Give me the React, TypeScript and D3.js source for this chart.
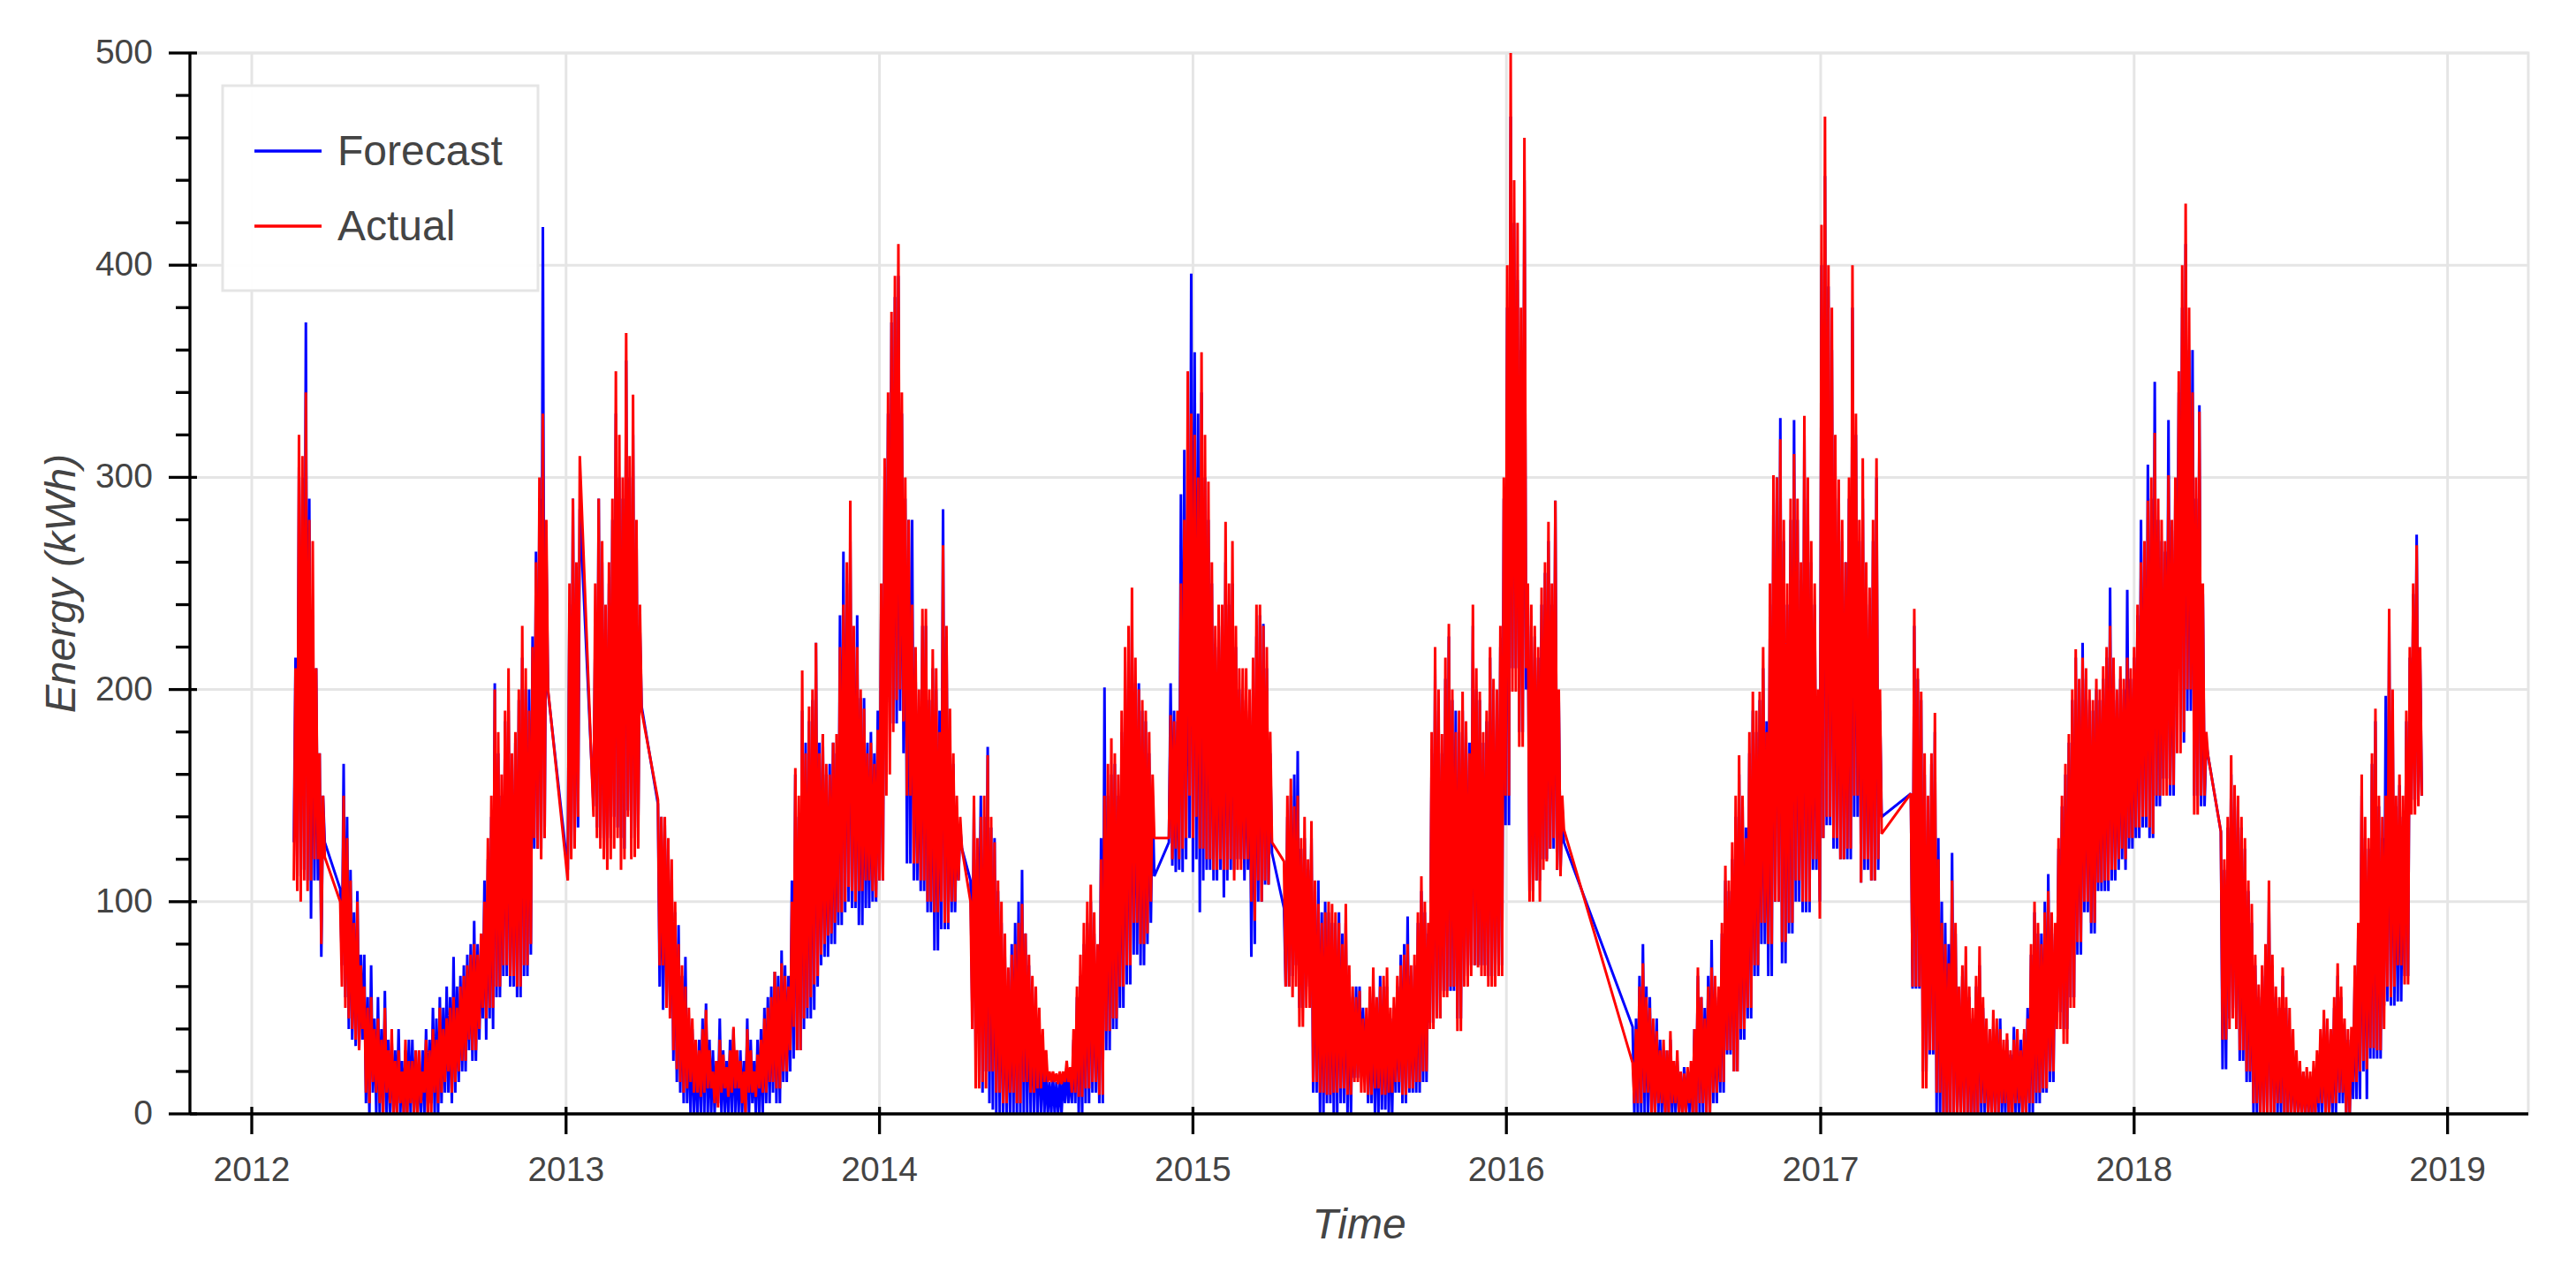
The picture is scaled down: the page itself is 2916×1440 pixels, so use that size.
import { useEffect, useRef } from 'react';
import * as d3 from 'd3';

// ---------------------------------------------------------------------------
// Data
// ---------------------------------------------------------------------------

// Readings come in runs, one value every STEP_DAYS days from the run start.
// Bokeh joins the runs with straight segments, so we do the same.
const STEP_DAYS = 2;

const RUN_STARTS = [
  '2012-02-19', '2012-04-13', '2013-01-03', '2013-02-02', '2013-04-18',
  '2014-04-17', '2014-12-04', '2015-04-17', '2016-05-27', '2017-04-16',
  '2018-04-12',
];

const actual1 = [110, 210, 105, 320, 100, 310, 110, 340, 105, 280, 110, 270, 120, 210, 120, 170, 80, 150, 121];
const forecast1 = [128, 215, 120, 305, 112, 300, 115, 373, 110, 290, 92, 235, 110, 210, 110, 170, 74, 150, 128];

const actual2 = [
  100, 60, 150, 50, 130, 45, 110, 40, 90, 35, 100, 30, 70, 40, 60, 10, 50, 5, 55, 15,
  40, 10, 45, 5, 35, 0, 50, 10, 30, 5, 40, 0, 25, 0, 30, 5, 20, 0, 35, 0,
  25, 5, 25, 0, 30, 0, 30, 5, 20, 10, 35, 0, 30, 0, 40, 10, 35, 5, 50, 10,
  40, 15, 45, 20, 50, 10, 55, 15, 50, 20, 60, 25, 65, 25, 70, 35, 75, 30, 80, 30,
  75, 40, 85, 50, 100, 45, 130, 50, 150, 50, 200, 60, 180, 60, 160, 70, 190, 70, 210, 65,
  170, 65, 180, 60, 200, 60, 230, 70, 210, 70, 190, 80, 220, 130, 260, 125, 300, 120, 330, 130,
  280, 200,
];
const forecast2 = [
  106, 70, 165, 55, 140, 40, 115, 35, 95, 32, 105, 30, 75, 35, 75, 5, 55, 0, 70, 10,
  45, 0, 55, 0, 40, 0, 58, 0, 35, 0, 35, 0, 30, 0, 40, 0, 25, 0, 30, 0,
  35, 0, 35, 0, 30, 0, 25, 0, 30, 0, 40, 0, 35, 5, 50, 0, 45, 0, 55, 5,
  50, 10, 60, 10, 55, 5, 74, 10, 60, 15, 65, 20, 70, 20, 75, 30, 80, 25, 91, 25,
  80, 35, 80, 45, 110, 35, 120, 45, 140, 40, 203, 55, 170, 55, 150, 65, 185, 65, 190, 60,
  165, 60, 175, 55, 195, 55, 215, 65, 200, 65, 200, 75, 225, 125, 265, 125, 290, 125, 418, 130,
  265, 199,
];

const actual3 = [110, 250, 120, 290, 125, 260, 140, 310];
const forecast3 = [115, 240, 125, 290, 130, 250, 135, 285];

const actual4 = [
  140, 250, 130, 290, 125, 270, 120, 240, 115, 260, 120, 290, 125, 350, 130,
  320, 115, 300, 120, 368, 140, 310, 120, 339, 121, 280, 125, 240, 190,
];
const forecast4 = [
  145, 230, 135, 290, 130, 260, 128, 230, 125, 250, 130, 280, 140, 330, 135,
  300, 130, 290, 125, 355, 143, 300, 130, 320, 130, 270, 135, 230, 192,
];

const actual5 = [
  148, 70, 140, 70, 140, 50, 130, 45, 120, 30, 100, 21, 80, 15, 70, 10, 60, 12, 50, 15,
  45, 10, 35, 10, 30, 8, 40, 10, 49, 12, 30, 12, 20, 5, 25, 3, 35, 10, 28, 12,
  22, 8, 30, 10, 41, 12, 30, 12, 25, 5, 20, 0, 40, 10, 30, 10, 20, 8, 28, 12,
  35, 10, 45, 10, 50, 15, 55, 15, 67, 12, 60, 12, 71, 20, 65, 20, 60, 30, 100, 41,
  163, 30, 150, 30, 209, 45, 170, 50, 192, 55, 200, 61, 222, 65, 170, 75, 179, 80, 165, 84,
  160, 85, 175, 90, 179, 95, 220, 95, 240, 100, 260, 107, 289, 105, 230, 100, 220, 105, 200, 105,
  191, 110, 170, 110, 175, 105, 165, 102, 181, 110, 250, 110, 309, 150, 340, 160, 378, 180, 395, 195,
  410, 200, 340, 185, 300, 150, 280, 150, 240, 118, 220, 118, 200, 110, 238, 110, 238, 100, 200, 100,
  219, 95, 210, 95, 180, 100, 268, 90, 230, 90, 191, 100, 170, 100, 150, 110, 140, 125,
];
const forecast5 = [
  146, 60, 140, 49, 136, 55, 125, 50, 110, 25, 95, 15, 89, 10, 65, 5, 74, 5, 45, 0,
  40, 0, 30, 0, 35, 0, 45, 0, 52, 0, 35, 0, 30, 0, 25, 5, 45, 0, 30, 0,
  25, 0, 35, 0, 40, 0, 30, 0, 30, 0, 25, 0, 45, 0, 35, 5, 25, 0, 35, 0,
  40, 0, 50, 5, 55, 5, 60, 10, 67, 5, 65, 5, 77, 15, 70, 15, 65, 20, 110, 26,
  160, 30, 140, 30, 190, 40, 175, 45, 185, 45, 195, 49, 222, 60, 175, 70, 179, 74, 160, 74,
  165, 80, 175, 80, 170, 89, 235, 89, 265, 95, 250, 100, 270, 97, 225, 97, 235, 89, 196, 89,
  196, 97, 175, 97, 180, 100, 170, 100, 190, 110, 240, 110, 300, 194, 330, 194, 373, 184, 385, 184,
  395, 190, 330, 170, 290, 118, 280, 118, 280, 110, 210, 110, 190, 105, 230, 105, 230, 95, 195, 95,
  210, 77, 200, 77, 190, 87, 285, 87, 225, 87, 180, 95, 165, 95, 140, 110, 135, 125,
];

const actual6 = [
  100, 40, 150, 12, 130, 12, 140, 15, 150, 12, 169, 20, 140, 20, 128, 10, 110, 10, 100, 5,
  85, 5, 69, 10, 75, 10, 80, 5, 90, 5, 99, 15, 85, 15, 75, 10, 65, 10, 60, 12,
  50, 12, 40, 15, 30, 15, 20, 15, 20, 15, 19, 14, 20, 14, 20, 15, 25, 15, 22, 10,
  40, 10, 60, 8, 75, 8, 90, 12, 100, 12, 108, 15, 95, 15, 80, 9, 120, 9, 150, 39,
  165, 39, 177, 45, 170, 45, 160, 60, 190, 60, 220, 70, 230, 70, 248, 90, 215, 90, 200, 80,
  195, 80, 190, 85, 180, 100, 160, 130,
];
const forecast6 = [
  110, 50, 145, 30, 120, 81, 150, 10, 140, 20, 173, 5, 135, 2, 130, 0, 105, 0, 90, 0,
  75, 0, 60, 0, 80, 0, 90, 0, 100, 0, 115, 0, 85, 0, 70, 0, 60, 0, 50, 0,
  40, 0, 30, 0, 20, 0, 15, 0, 18, 0, 15, 0, 16, 0, 18, 5, 22, 5, 20, 5,
  35, 5, 55, 0, 65, 0, 80, 5, 90, 5, 100, 10, 85, 10, 70, 5, 130, 5, 201, 30,
  150, 30, 160, 40, 165, 40, 150, 50, 180, 50, 200, 61, 215, 61, 230, 75, 203, 75, 203, 70,
  190, 70, 185, 80, 170, 90, 150, 112,
];

const actual7 = [
  130, 188, 120, 185, 125, 190, 120, 250, 125, 280, 130, 350, 150, 330, 130, 320, 140, 300, 125, 359,
  125, 320, 120, 298, 120, 260, 115, 230, 115, 240, 120, 240, 115, 279, 115, 250, 120, 270, 110, 230,
  115, 210, 115, 210, 120, 210, 120, 200, 100, 215, 91, 240, 110, 240, 100, 230, 110, 220, 108, 180,
  128,
];
const forecast7 = [
  128, 203, 117, 190, 114, 185, 115, 292, 114, 313, 120, 300, 130, 396, 114, 359, 120, 330, 95, 340,
  110, 300, 115, 280, 115, 250, 110, 220, 110, 230, 115, 230, 102, 260, 110, 240, 115, 250, 115, 220,
  120, 200, 120, 195, 110, 190, 115, 190, 74, 200, 80, 225, 100, 235, 100, 231, 108, 210, 108, 170,
  123,
];

const actual8 = [
  119, 60, 150, 60, 158, 55, 145, 60, 150, 41, 130, 41, 140, 50, 120, 50, 138, 15, 110, 15,
  99, 10, 90, 10, 95, 9, 100, 9, 99, 10, 95, 10, 90, 12, 80, 12, 99, 9, 70, 9,
  60, 15, 55, 15, 58, 10, 45, 10, 50, 9, 60, 9, 69, 12, 55, 12, 60, 9, 65, 9,
  69, 10, 50, 10, 55, 15, 65, 15, 70, 9, 75, 9, 80, 12, 70, 12, 75, 15, 95, 15,
  112, 20, 100, 20, 90, 40, 180, 40, 220, 45, 200, 45, 179, 55, 215, 55, 231, 60, 200, 60,
  180, 39, 190, 39, 199, 60, 185, 60, 170, 65, 240, 70, 210, 69, 199, 65, 180, 65, 190, 60,
  220, 60, 205, 60, 200, 65, 230, 65, 300, 150, 400, 150, 500, 199, 440, 199, 420, 173, 380, 173,
  460, 210, 250, 100, 240, 100, 230, 110, 220, 100, 248, 115, 260, 119, 279, 125, 250, 130, 289, 115,
  200, 112, 150, 134,
];
const forecast8 = [
  97, 60, 140, 60, 150, 65, 160, 70, 171, 50, 125, 50, 130, 60, 115, 60, 130, 10, 105, 10,
  110, 0, 95, 0, 100, 5, 95, 5, 90, 0, 90, 0, 95, 5, 85, 5, 90, 0, 65, 0,
  55, 17, 60, 17, 60, 26, 50, 26, 45, 5, 55, 5, 60, 0, 50, 0, 65, 2, 60, 2,
  60, 0, 45, 0, 50, 10, 60, 10, 75, 5, 80, 5, 93, 10, 65, 10, 70, 10, 90, 10,
  105, 15, 95, 15, 85, 43, 170, 43, 210, 45, 190, 45, 170, 58, 205, 58, 225, 58, 195, 58,
  190, 45, 180, 45, 190, 65, 180, 65, 175, 70, 230, 70, 200, 70, 195, 70, 175, 70, 185, 65,
  215, 65, 200, 65, 190, 70, 220, 70, 290, 136, 380, 136, 470, 210, 420, 210, 393, 180, 360, 180,
  440, 200, 240, 105, 230, 105, 225, 110, 215, 110, 240, 120, 255, 120, 270, 125, 240, 125, 289, 115,
  195, 115, 145, 128,
];

const actual9 = [
  24, 5, 40, 5, 60, 5, 71, 10, 55, 10, 50, 0, 45, 0, 39, 5, 30, 5, 35, 0,
  30, 0, 39, 5, 25, 5, 30, 0, 20, 0, 19, 0, 22, 5, 25, 0, 40, 0, 69, 5,
  55, 5, 45, 0, 60, 0, 69, 10, 65, 10, 60, 15, 90, 15, 117, 30, 110, 30, 128, 20,
  150, 20, 169, 40, 150, 40, 130, 50, 180, 50, 199, 70, 190, 70, 199, 90, 220, 90, 180, 80,
  250, 80, 301, 100, 300, 100, 318, 81, 280, 81, 250, 90, 290, 90, 311, 110, 290, 110, 260, 100,
  329, 100, 300, 100, 270, 120, 250, 120, 200, 92, 419, 130, 470, 140, 400, 140, 380, 130, 320, 130,
  299, 120, 280, 120, 260, 125, 300, 125, 400, 150, 330, 150, 280, 109, 309, 120, 260, 120, 248, 110,
  280, 110, 309, 120, 200, 132,
];
const forecast9 = [
  41, 0, 45, 0, 65, 0, 80, 0, 60, 0, 55, 0, 45, 0, 45, 0, 35, 0, 30, 0,
  30, 0, 35, 0, 25, 0, 25, 0, 18, 0, 22, 0, 20, 0, 20, 0, 40, 0, 65, 0,
  55, 0, 50, 0, 65, 0, 82, 5, 60, 5, 55, 10, 85, 10, 110, 28, 105, 28, 120, 20,
  140, 20, 160, 35, 145, 35, 135, 45, 170, 45, 190, 65, 180, 65, 195, 80, 210, 80, 185, 65,
  240, 65, 290, 100, 300, 100, 328, 71, 270, 71, 240, 85, 280, 85, 327, 100, 280, 100, 250, 95,
  320, 95, 290, 95, 260, 115, 240, 115, 190, 100, 400, 130, 442, 136, 390, 136, 360, 125, 300, 125,
  290, 120, 270, 120, 260, 120, 290, 120, 380, 140, 320, 140, 270, 109, 290, 115, 250, 115, 240, 110,
  270, 110, 300, 115, 190, 140,
];

const actual10 = [
  151, 60, 238, 60, 210, 60, 199, 12, 170, 12, 150, 30, 170, 30, 189, 10, 120, 10, 90, 0,
  80, 0, 71, 0, 110, 0, 90, 0, 60, 0, 70, 0, 79, 0, 60, 0, 50, 0, 65, 0,
  79, 5, 55, 5, 45, 0, 40, 0, 49, 0, 45, 0, 40, 5, 35, 5, 38, 0, 30, 0,
  35, 5, 40, 5, 30, 0, 40, 0, 45, 5, 80, 5, 100, 10, 90, 10, 80, 12, 95, 12,
  105, 20, 95, 20, 90, 40, 130, 40, 150, 33, 165, 33, 179, 50, 200, 50, 219, 81, 205, 81,
  215, 100, 210, 100, 200, 90, 195, 90, 205, 109, 200, 109, 211, 110, 220, 110, 230, 115, 215, 115,
  200, 120, 211, 125, 205, 120, 215, 130, 210, 130, 220, 135, 240, 135, 260, 140, 270, 140, 289, 135,
  300, 132, 321, 150, 290, 150, 280, 150, 270, 150, 301, 155, 280, 155, 300, 170, 350, 170, 400, 180,
  429, 200, 380, 200, 340, 141, 300, 141, 331, 150, 250, 150, 180, 169,
];
const forecast10 = [
  151, 59, 230, 59, 205, 59, 195, 20, 160, 20, 140, 28, 165, 28, 180, 0, 130, 0, 100, 0,
  90, 0, 80, 0, 123, 0, 85, 0, 55, 0, 65, 0, 70, 0, 55, 0, 45, 0, 60, 0,
  70, 0, 50, 0, 40, 0, 35, 0, 41, 0, 40, 0, 45, 0, 30, 0, 35, 0, 28, 0,
  41, 0, 35, 0, 35, 0, 38, 0, 50, 0, 75, 0, 95, 5, 85, 5, 85, 10, 100, 10,
  113, 15, 90, 15, 85, 48, 125, 48, 145, 40, 160, 40, 175, 55, 195, 55, 215, 75, 200, 75,
  222, 95, 205, 95, 195, 85, 190, 85, 200, 105, 195, 105, 205, 105, 215, 105, 248, 110, 210, 110,
  195, 115, 205, 120, 200, 115, 247, 125, 205, 125, 215, 130, 235, 130, 280, 135, 265, 135, 306, 130,
  290, 130, 345, 145, 280, 145, 270, 158, 265, 158, 327, 150, 275, 150, 290, 225, 340, 225, 380, 175,
  410, 190, 360, 190, 360, 150, 290, 150, 334, 145, 245, 145, 175, 169,
];

const actual11 = [
  133, 35, 120, 35, 140, 40, 169, 45, 155, 40, 150, 30, 140, 30, 130, 20, 110, 20, 99, 5,
  75, 5, 61, 0, 70, 0, 80, 0, 110, 0, 75, 0, 60, 5, 55, 5, 69, 0, 55, 0,
  50, 0, 40, 0, 30, 0, 25, 0, 20, 0, 22, 0, 20, 0, 25, 0, 30, 5, 40, 5,
  49, 0, 45, 0, 40, 5, 55, 5, 71, 10, 60, 10, 45, 0, 40, 0, 41, 15, 70, 15,
  90, 20, 160, 25, 140, 21, 130, 31, 170, 31, 191, 30, 150, 30, 140, 40, 150, 60, 238, 55,
  200, 60, 150, 70, 160, 70, 150, 61, 190, 61, 220, 141, 250, 141, 268, 145, 220, 150,
];
const forecast11 = [
  133, 21, 115, 21, 135, 45, 160, 50, 150, 45, 145, 25, 135, 25, 125, 15, 105, 15, 90, 0,
  70, 0, 55, 0, 65, 0, 75, 0, 100, 0, 70, 0, 55, 0, 50, 0, 65, 0, 50, 0,
  40, 0, 30, 0, 25, 0, 20, 0, 20, 0, 18, 0, 15, 0, 20, 0, 25, 0, 35, 0,
  45, 0, 40, 0, 35, 0, 50, 0, 65, 5, 55, 5, 40, 0, 35, 0, 35, 7, 65, 7,
  85, 7, 150, 20, 130, 7, 125, 26, 165, 26, 185, 26, 145, 26, 130, 51, 197, 53, 230, 51,
  190, 51, 145, 53, 155, 53, 140, 65, 185, 65, 215, 148, 245, 148, 273, 150, 215, 150,
];

const ACTUAL_RUNS = [
  actual1, actual2, actual3, actual4, actual5, actual6,
  actual7, actual8, actual9, actual10, actual11,
];
const FORECAST_RUNS = [
  forecast1, forecast2, forecast3, forecast4, forecast5, forecast6,
  forecast7, forecast8, forecast9, forecast10, forecast11,
];

const Y_TICKS = [0, 100, 200, 300, 400, 500];
const Y_MINOR_STEP = 20;
const YEAR_TICKS = [2012, 2013, 2014, 2015, 2016, 2017, 2018, 2019];
const X_DOMAIN = ['2011-10-21', '2019-04-05'];

const SERIES = [
  { label: 'Forecast', color: '#0000ff', runs: FORECAST_RUNS },
  { label: 'Actual', color: '#ff0000', runs: ACTUAL_RUNS },
];

// ---------------------------------------------------------------------------
// Layout / style
// ---------------------------------------------------------------------------

const WIDTH = 2916;
const HEIGHT = 1440;
const MARGIN = { top: 60, right: 54, bottom: 179, left: 215 };
const FONT = '"Liberation Sans", Arial, Helvetica, sans-serif';
const GRID_COLOR = '#e5e5e5';
const TEXT_COLOR = '#444444';
const AXIS_WIDTH = 3.3;
const LINE_WIDTH = 3;

interface Point {
  date: Date;
  value: number;
}

const parseDate = d3.timeParse('%Y-%m-%d');

function buildPoints(runs: number[][]): Point[] {
  const points: Point[] = [];
  runs.forEach((values, r) => {
    const start = parseDate(RUN_STARTS[r]) as Date;
    values.forEach((value, i) => {
      points.push({ date: d3.timeDay.offset(start, i * STEP_DAYS), value });
    });
  });
  return points;
}

// ---------------------------------------------------------------------------
// Component
// ---------------------------------------------------------------------------

export default function App() {
  const svgRef = useRef<SVGSVGElement>(null);

  useEffect(() => {
    if (!svgRef.current) return;
    const svg = d3.select(svgRef.current);
    svg.selectAll('*').remove();

    const left = MARGIN.left;
    const right = WIDTH - MARGIN.right;
    const top = MARGIN.top;
    const bottom = HEIGHT - MARGIN.bottom;

    const x = d3.scaleTime()
      .domain(X_DOMAIN.map((d) => parseDate(d) as Date))
      .range([left, right]);
    const y = d3.scaleLinear().domain([0, 500]).range([bottom, top]);

    svg.append('defs')
      .append('clipPath')
      .attr('id', 'plot-clip')
      .append('rect')
      .attr('x', left)
      .attr('y', top)
      .attr('width', right - left)
      .attr('height', bottom - top);

    // Grid
    const grid = svg.append('g');
    grid.selectAll('.hgrid')
      .data(Y_TICKS)
      .join('line')
      .attr('x1', left).attr('x2', right)
      .attr('y1', (d) => y(d)).attr('y2', (d) => y(d))
      .attr('stroke', GRID_COLOR)
      .attr('stroke-width', 3);

    const yearDate = (yr: number) => new Date(yr, 0, 1);
    grid.selectAll('.vgrid')
      .data(YEAR_TICKS)
      .join('line')
      .attr('x1', (d) => x(yearDate(d))).attr('x2', (d) => x(yearDate(d)))
      .attr('y1', top).attr('y2', bottom)
      .attr('stroke', GRID_COLOR)
      .attr('stroke-width', 3);

    // Plot outline
    svg.append('rect')
      .attr('x', left).attr('y', top)
      .attr('width', right - left).attr('height', bottom - top)
      .attr('fill', 'none')
      .attr('stroke', GRID_COLOR)
      .attr('stroke-width', 3);

    // Series
    const line = d3.line<Point>()
      .x((d) => x(d.date))
      .y((d) => y(d.value));

    const plot = svg.append('g').attr('clip-path', 'url(#plot-clip)');
    SERIES.forEach((s) => {
      plot.append('path')
        .datum(buildPoints(s.runs))
        .attr('d', line)
        .attr('fill', 'none')
        .attr('stroke', s.color)
        .attr('stroke-width', LINE_WIDTH)
        .attr('stroke-linejoin', 'bevel');
    });

    // Axes
    const axes = svg.append('g').attr('stroke', '#000').attr('stroke-width', AXIS_WIDTH);
    axes.append('line')
      .attr('x1', left).attr('x2', left)
      .attr('y1', top).attr('y2', bottom);
    axes.append('line')
      .attr('x1', left).attr('x2', right)
      .attr('y1', bottom).attr('y2', bottom);

    axes.selectAll('.ymajor')
      .data(Y_TICKS)
      .join('line')
      .attr('x1', left - 24).attr('x2', left + 8)
      .attr('y1', (d) => y(d)).attr('y2', (d) => y(d));

    const minor = d3.range(0, 500, Y_MINOR_STEP).filter((v) => v % 100 !== 0);
    axes.selectAll('.yminor')
      .data(minor)
      .join('line')
      .attr('x1', left - 16).attr('x2', left)
      .attr('y1', (d) => y(d)).attr('y2', (d) => y(d));

    axes.selectAll('.xmajor')
      .data(YEAR_TICKS)
      .join('line')
      .attr('x1', (d) => x(yearDate(d))).attr('x2', (d) => x(yearDate(d)))
      .attr('y1', bottom - 8).attr('y2', bottom + 23);

    // Tick labels
    svg.selectAll('.ylabel')
      .data(Y_TICKS)
      .join('text')
      .attr('x', left - 42)
      .attr('y', (d) => y(d) + 12)
      .attr('text-anchor', 'end')
      .attr('font-family', FONT)
      .attr('font-size', 39)
      .attr('fill', TEXT_COLOR)
      .text((d) => String(d));

    svg.selectAll('.xlabel')
      .data(YEAR_TICKS)
      .join('text')
      .attr('x', (d) => x(yearDate(d)))
      .attr('y', bottom + 76)
      .attr('text-anchor', 'middle')
      .attr('font-family', FONT)
      .attr('font-size', 39)
      .attr('fill', TEXT_COLOR)
      .text((d) => String(d));

    // Axis titles
    svg.append('text')
      .attr('x', (left + right) / 2)
      .attr('y', bottom + 141)
      .attr('text-anchor', 'middle')
      .attr('font-family', FONT)
      .attr('font-size', 48)
      .attr('font-style', 'italic')
      .attr('fill', TEXT_COLOR)
      .text('Time');

    svg.append('text')
      .attr('transform', `translate(85,${(top + bottom) / 2}) rotate(-90)`)
      .attr('text-anchor', 'middle')
      .attr('font-family', FONT)
      .attr('font-size', 48)
      .attr('font-style', 'italic')
      .attr('fill', TEXT_COLOR)
      .text('Energy (kWh)');

    // Legend
    const legend = svg.append('g').attr('transform', 'translate(252,97)');
    legend.append('rect')
      .attr('width', 357)
      .attr('height', 232)
      .attr('fill', '#fff')
      .attr('fill-opacity', 0.95)
      .attr('stroke', GRID_COLOR)
      .attr('stroke-width', 3);

    SERIES.forEach((s, i) => {
      const cy = 74 + i * 85;
      legend.append('line')
        .attr('x1', 36).attr('x2', 112)
        .attr('y1', cy).attr('y2', cy)
        .attr('stroke', s.color)
        .attr('stroke-width', 3.5);
      legend.append('text')
        .attr('x', 130)
        .attr('y', cy + 16)
        .attr('font-family', FONT)
        .attr('font-size', 48)
        .attr('fill', TEXT_COLOR)
        .text(s.label);
    });
  }, []);

  return (
    <svg
      ref={svgRef}
      width={WIDTH}
      height={HEIGHT}
      style={{ position: 'absolute', left: 0, top: 0, background: '#fff' }}
    />
  );
}
